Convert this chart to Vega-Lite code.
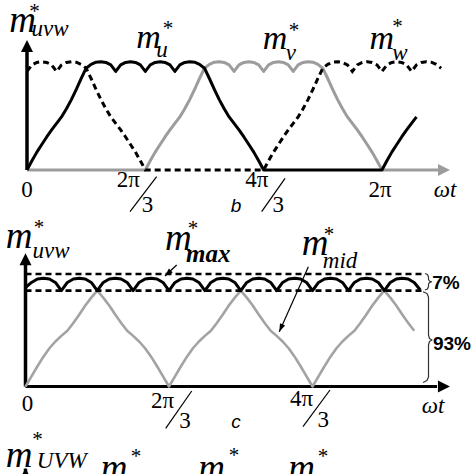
{
  "$schema": "https://vega.github.io/schema/vega-lite/v6.json",
  "padding": 0,
  "spacing": 0,
  "bounds": "flush",
  "background": "white",
  "config": {"view": {"stroke": null}},
  "datasets": {
    "bWave": [
      {"s":"u","x":0,"y":0},{"s":"u","x":5,"y":0.085},{"s":"u","x":10,"y":0.165},{"s":"u","x":15,"y":0.235},{"s":"u","x":20,"y":0.305},{"s":"u","x":25,"y":0.37},{"s":"u","x":30,"y":0.43},{"s":"u","x":35,"y":0.49},{"s":"u","x":40,"y":0.565},{"s":"u","x":45,"y":0.65},{"s":"u","x":50,"y":0.745},{"s":"u","x":55,"y":0.845},{"s":"u","x":60,"y":0.94},{"s":"u","x":65,"y":0.975},{"s":"u","x":70,"y":0.995},{"s":"u","x":75,"y":1},{"s":"u","x":80,"y":0.993},{"s":"u","x":85,"y":0.97},{"s":"u","x":90,"y":0.91},{"s":"u","x":95,"y":0.97},{"s":"u","x":100,"y":0.993},{"s":"u","x":105,"y":1},{"s":"u","x":110,"y":0.993},{"s":"u","x":115,"y":0.97},{"s":"u","x":120,"y":0.91},{"s":"u","x":125,"y":0.97},{"s":"u","x":130,"y":0.993},{"s":"u","x":135,"y":1},{"s":"u","x":140,"y":0.993},{"s":"u","x":145,"y":0.97},{"s":"u","x":150,"y":0.91},{"s":"u","x":155,"y":0.97},{"s":"u","x":160,"y":0.993},{"s":"u","x":165,"y":1},{"s":"u","x":170,"y":0.995},{"s":"u","x":175,"y":0.975},{"s":"u","x":180,"y":0.94},{"s":"u","x":185,"y":0.845},{"s":"u","x":190,"y":0.745},{"s":"u","x":195,"y":0.65},{"s":"u","x":200,"y":0.565},{"s":"u","x":205,"y":0.49},{"s":"u","x":210,"y":0.43},{"s":"u","x":215,"y":0.37},{"s":"u","x":220,"y":0.305},{"s":"u","x":225,"y":0.235},{"s":"u","x":230,"y":0.165},{"s":"u","x":235,"y":0.085},{"s":"u","x":240,"y":0},{"s":"u","x":360,"y":0},{"s":"u","x":365,"y":0.085},{"s":"u","x":370,"y":0.165},{"s":"u","x":375,"y":0.235},{"s":"u","x":380,"y":0.305},{"s":"u","x":385,"y":0.37},{"s":"u","x":390,"y":0.43},{"s":"u","x":395,"y":0.49},
      {"s":"v","x":0,"y":0},{"s":"v","x":120,"y":0},{"s":"v","x":125,"y":0.085},{"s":"v","x":130,"y":0.165},{"s":"v","x":135,"y":0.235},{"s":"v","x":140,"y":0.305},{"s":"v","x":145,"y":0.37},{"s":"v","x":150,"y":0.43},{"s":"v","x":155,"y":0.49},{"s":"v","x":160,"y":0.565},{"s":"v","x":165,"y":0.65},{"s":"v","x":170,"y":0.745},{"s":"v","x":175,"y":0.845},{"s":"v","x":180,"y":0.94},{"s":"v","x":185,"y":0.975},{"s":"v","x":190,"y":0.995},{"s":"v","x":195,"y":1},{"s":"v","x":200,"y":0.993},{"s":"v","x":205,"y":0.97},{"s":"v","x":210,"y":0.91},{"s":"v","x":215,"y":0.97},{"s":"v","x":220,"y":0.993},{"s":"v","x":225,"y":1},{"s":"v","x":230,"y":0.993},{"s":"v","x":235,"y":0.97},{"s":"v","x":240,"y":0.91},{"s":"v","x":245,"y":0.97},{"s":"v","x":250,"y":0.993},{"s":"v","x":255,"y":1},{"s":"v","x":260,"y":0.993},{"s":"v","x":265,"y":0.97},{"s":"v","x":270,"y":0.91},{"s":"v","x":275,"y":0.97},{"s":"v","x":280,"y":0.993},{"s":"v","x":285,"y":1},{"s":"v","x":290,"y":0.995},{"s":"v","x":295,"y":0.975},{"s":"v","x":300,"y":0.94},{"s":"v","x":305,"y":0.845},{"s":"v","x":310,"y":0.745},{"s":"v","x":315,"y":0.65},{"s":"v","x":320,"y":0.565},{"s":"v","x":325,"y":0.49},{"s":"v","x":330,"y":0.43},{"s":"v","x":335,"y":0.37},{"s":"v","x":340,"y":0.305},{"s":"v","x":345,"y":0.235},{"s":"v","x":350,"y":0.165},{"s":"v","x":355,"y":0.085},{"s":"v","x":360,"y":0},
      {"s":"w","x":0,"y":0.91},{"s":"w","x":5,"y":0.97},{"s":"w","x":10,"y":0.993},{"s":"w","x":15,"y":1},{"s":"w","x":20,"y":0.993},{"s":"w","x":25,"y":0.97},{"s":"w","x":30,"y":0.91},{"s":"w","x":35,"y":0.97},{"s":"w","x":40,"y":0.993},{"s":"w","x":45,"y":1},{"s":"w","x":50,"y":0.995},{"s":"w","x":55,"y":0.975},{"s":"w","x":60,"y":0.94},{"s":"w","x":65,"y":0.845},{"s":"w","x":70,"y":0.745},{"s":"w","x":75,"y":0.65},{"s":"w","x":80,"y":0.565},{"s":"w","x":85,"y":0.49},{"s":"w","x":90,"y":0.43},{"s":"w","x":95,"y":0.37},{"s":"w","x":100,"y":0.305},{"s":"w","x":105,"y":0.235},{"s":"w","x":110,"y":0.165},{"s":"w","x":115,"y":0.085},{"s":"w","x":120,"y":0},{"s":"w","x":240,"y":0},{"s":"w","x":245,"y":0.085},{"s":"w","x":250,"y":0.165},{"s":"w","x":255,"y":0.235},{"s":"w","x":260,"y":0.305},{"s":"w","x":265,"y":0.37},{"s":"w","x":270,"y":0.43},{"s":"w","x":275,"y":0.49},{"s":"w","x":280,"y":0.565},{"s":"w","x":285,"y":0.65},{"s":"w","x":290,"y":0.745},{"s":"w","x":295,"y":0.845},{"s":"w","x":300,"y":0.94},{"s":"w","x":305,"y":0.975},{"s":"w","x":310,"y":0.995},{"s":"w","x":315,"y":1},{"s":"w","x":320,"y":0.993},{"s":"w","x":325,"y":0.97},{"s":"w","x":330,"y":0.91},{"s":"w","x":335,"y":0.97},{"s":"w","x":340,"y":0.993},{"s":"w","x":345,"y":1},{"s":"w","x":350,"y":0.993},{"s":"w","x":355,"y":0.97},{"s":"w","x":360,"y":0.91},{"s":"w","x":365,"y":0.97},{"s":"w","x":370,"y":0.993},{"s":"w","x":375,"y":1},{"s":"w","x":380,"y":0.993},{"s":"w","x":385,"y":0.97},{"s":"w","x":390,"y":0.91},{"s":"w","x":395,"y":0.97},{"s":"w","x":400,"y":0.993},{"s":"w","x":405,"y":1},{"s":"w","x":410,"y":0.995},{"s":"w","x":415,"y":0.975},{"s":"w","x":420,"y":0.94}
    ],
    "bRule": [
      {"k":"yaxis","x":0,"y":0,"x2":0,"y2":1.09},
      {"k":"xaxis","x":360,"y":0,"x2":416.8,"y2":0},
      {"k":"slash","x":104.5,"y":-0.385,"x2":131.5,"y2":-0.062},
      {"k":"slash","x":238.0,"y":-0.385,"x2":261.7,"y2":-0.077}
    ],
    "bHead": [
      {"k":"up","x":0,"y":1.2},
      {"k":"right","x":429.0,"y":0}
    ],
    "bText": [
      {"k":"m1","t":"m","x":-4.56,"y":1.274},
      {"k":"sub","t":"uvw","x":23.33,"y":1.233},
      {"k":"star","t":"*","x":7.61,"y":1.405},
      {"k":"m2","t":"m","x":123.2,"y":1.127},
      {"k":"sub","t":"u","x":136.9,"y":1.039},
      {"k":"star","t":"*","x":143.0,"y":1.243},
      {"k":"m2","t":"m","x":251.5,"y":1.113},
      {"k":"sub","t":"v","x":267.7,"y":1.02},
      {"k":"star","t":"*","x":270.8,"y":1.224},
      {"k":"m2","t":"m","x":359.7,"y":1.113},
      {"k":"sub","t":"w","x":378.3,"y":1.02},
      {"k":"star","t":"*","x":375.8,"y":1.261},
      {"k":"tick","t":"0","x":0,"y":-0.249},
      {"k":"tick","t":"2π","x":102.7,"y":-0.157},
      {"k":"tick","t":"3","x":122.2,"y":-0.385},
      {"k":"tick","t":"4π","x":233.0,"y":-0.157},
      {"k":"tick","t":"3","x":254.9,"y":-0.385},
      {"k":"tick","t":"2π","x":358.0,"y":-0.249},
      {"k":"wt","t":"ωt","x":423.9,"y":-0.249},
      {"k":"cap","t":"b","x":212.0,"y":-0.385}
    ],
    "cWave": [
      {"s":"mid","x":0,"y":0},{"s":"mid","x":5,"y":0.09},{"s":"mid","x":10,"y":0.18},{"s":"mid","x":15,"y":0.265},{"s":"mid","x":20,"y":0.34},{"s":"mid","x":25,"y":0.4},{"s":"mid","x":30,"y":0.45},{"s":"mid","x":35,"y":0.495},{"s":"mid","x":40,"y":0.565},{"s":"mid","x":45,"y":0.64},{"s":"mid","x":50,"y":0.72},{"s":"mid","x":55,"y":0.79},{"s":"mid","x":60,"y":0.852},{"s":"mid","x":65,"y":0.79},{"s":"mid","x":70,"y":0.72},{"s":"mid","x":75,"y":0.64},{"s":"mid","x":80,"y":0.565},{"s":"mid","x":85,"y":0.495},{"s":"mid","x":90,"y":0.45},{"s":"mid","x":95,"y":0.4},{"s":"mid","x":100,"y":0.34},{"s":"mid","x":105,"y":0.265},{"s":"mid","x":110,"y":0.18},{"s":"mid","x":115,"y":0.09},{"s":"mid","x":120,"y":0},
      {"s":"mid","x":125,"y":0.09},{"s":"mid","x":130,"y":0.18},{"s":"mid","x":135,"y":0.265},{"s":"mid","x":140,"y":0.34},{"s":"mid","x":145,"y":0.4},{"s":"mid","x":150,"y":0.45},{"s":"mid","x":155,"y":0.495},{"s":"mid","x":160,"y":0.565},{"s":"mid","x":165,"y":0.64},{"s":"mid","x":170,"y":0.72},{"s":"mid","x":175,"y":0.79},{"s":"mid","x":180,"y":0.852},{"s":"mid","x":185,"y":0.79},{"s":"mid","x":190,"y":0.72},{"s":"mid","x":195,"y":0.64},{"s":"mid","x":200,"y":0.565},{"s":"mid","x":205,"y":0.495},{"s":"mid","x":210,"y":0.45},{"s":"mid","x":215,"y":0.4},{"s":"mid","x":220,"y":0.34},{"s":"mid","x":225,"y":0.265},{"s":"mid","x":230,"y":0.18},{"s":"mid","x":235,"y":0.09},{"s":"mid","x":240,"y":0},
      {"s":"mid","x":245,"y":0.09},{"s":"mid","x":250,"y":0.18},{"s":"mid","x":255,"y":0.265},{"s":"mid","x":260,"y":0.34},{"s":"mid","x":265,"y":0.4},{"s":"mid","x":270,"y":0.45},{"s":"mid","x":275,"y":0.495},{"s":"mid","x":280,"y":0.565},{"s":"mid","x":285,"y":0.64},{"s":"mid","x":290,"y":0.72},{"s":"mid","x":295,"y":0.79},{"s":"mid","x":300,"y":0.852},{"s":"mid","x":305,"y":0.79},{"s":"mid","x":310,"y":0.72},{"s":"mid","x":315,"y":0.64},{"s":"mid","x":320,"y":0.565},{"s":"mid","x":325,"y":0.495},
      {"s":"max","x":0,"y":0.88},{"s":"max","x":5,"y":0.925},{"s":"max","x":10,"y":0.955},{"s":"max","x":15,"y":0.962},{"s":"max","x":20,"y":0.955},{"s":"max","x":25,"y":0.925},
      {"s":"max","x":30,"y":0.852},{"s":"max","x":35,"y":0.925},{"s":"max","x":40,"y":0.955},{"s":"max","x":45,"y":0.962},{"s":"max","x":50,"y":0.955},{"s":"max","x":55,"y":0.925},
      {"s":"max","x":60,"y":0.852},{"s":"max","x":65,"y":0.925},{"s":"max","x":70,"y":0.955},{"s":"max","x":75,"y":0.962},{"s":"max","x":80,"y":0.955},{"s":"max","x":85,"y":0.925},
      {"s":"max","x":90,"y":0.852},{"s":"max","x":95,"y":0.925},{"s":"max","x":100,"y":0.955},{"s":"max","x":105,"y":0.962},{"s":"max","x":110,"y":0.955},{"s":"max","x":115,"y":0.925},
      {"s":"max","x":120,"y":0.852},{"s":"max","x":125,"y":0.925},{"s":"max","x":130,"y":0.955},{"s":"max","x":135,"y":0.962},{"s":"max","x":140,"y":0.955},{"s":"max","x":145,"y":0.925},
      {"s":"max","x":150,"y":0.852},{"s":"max","x":155,"y":0.925},{"s":"max","x":160,"y":0.955},{"s":"max","x":165,"y":0.962},{"s":"max","x":170,"y":0.955},{"s":"max","x":175,"y":0.925},
      {"s":"max","x":180,"y":0.852},{"s":"max","x":185,"y":0.925},{"s":"max","x":190,"y":0.955},{"s":"max","x":195,"y":0.962},{"s":"max","x":200,"y":0.955},{"s":"max","x":205,"y":0.925},
      {"s":"max","x":210,"y":0.852},{"s":"max","x":215,"y":0.925},{"s":"max","x":220,"y":0.955},{"s":"max","x":225,"y":0.962},{"s":"max","x":230,"y":0.955},{"s":"max","x":235,"y":0.925},
      {"s":"max","x":240,"y":0.852},{"s":"max","x":245,"y":0.925},{"s":"max","x":250,"y":0.955},{"s":"max","x":255,"y":0.962},{"s":"max","x":260,"y":0.955},{"s":"max","x":265,"y":0.925},
      {"s":"max","x":270,"y":0.852},{"s":"max","x":275,"y":0.925},{"s":"max","x":280,"y":0.955},{"s":"max","x":285,"y":0.962},{"s":"max","x":290,"y":0.955},{"s":"max","x":295,"y":0.925},
      {"s":"max","x":300,"y":0.852},{"s":"max","x":305,"y":0.925},{"s":"max","x":310,"y":0.955},{"s":"max","x":315,"y":0.962},{"s":"max","x":320,"y":0.955},{"s":"max","x":325,"y":0.925},
      {"s":"max","x":330,"y":0.86}
    ],
    "cBrace": [
      {"s":"big","o":0,"x":332.36,"y":0.8427},{"s":"big","o":1,"x":335.7,"y":0.8267},{"s":"big","o":2,"x":336.96,"y":0.7956},{"s":"big","o":3,"x":336.96,"y":0.4578},{"s":"big","o":4,"x":337.79,"y":0.4267},{"s":"big","o":5,"x":339.88,"y":0.4133},{"s":"big","o":6,"x":337.79,"y":0.4},{"s":"big","o":7,"x":336.96,"y":0.3689},{"s":"big","o":8,"x":336.96,"y":0.0844},{"s":"big","o":9,"x":335.7,"y":0.0533},{"s":"big","o":10,"x":332.36,"y":0.0356},
      {"s":"small","o":0,"x":334.03,"y":1.0044},{"s":"small","o":1,"x":336.12,"y":0.9956},{"s":"small","o":2,"x":336.96,"y":0.9733},{"s":"small","o":3,"x":336.96,"y":0.9511},{"s":"small","o":4,"x":337.79,"y":0.9378},{"s":"small","o":5,"x":339.47,"y":0.9307},{"s":"small","o":6,"x":337.79,"y":0.9236},{"s":"small","o":7,"x":336.96,"y":0.9111},{"s":"small","o":8,"x":336.96,"y":0.8889},{"s":"small","o":9,"x":336.12,"y":0.8667},{"s":"small","o":10,"x":334.03,"y":0.8578}
    ],
    "cRule": [
      {"k":"yaxis","x":0,"y":0,"x2":0,"y2":1.08},
      {"k":"yaxis","x":0,"y":-0.73,"x2":0,"y2":-0.95},
      {"k":"xaxis","x":0,"y":0,"x2":344.1,"y2":0},
      {"k":"dash","x":0,"y":1.0,"x2":334,"y2":1.0},
      {"k":"dash","x":0,"y":0.852,"x2":334,"y2":0.852},
      {"k":"slash","x":117.2,"y":-0.372,"x2":139.0,"y2":-0.04},
      {"k":"slash","x":232.0,"y":-0.357,"x2":254.6,"y2":-0.031},
      {"k":"pointer","x":126.4,"y":1.08,"x2":116.6,"y2":0.982},
      {"k":"pointer","x":236.5,"y":1.065,"x2":212.2,"y2":0.487}
    ],
    "cHead": [
      {"k":"up","x":0,"y":1.184},
      {"k":"up","x":0,"y":-0.724},
      {"k":"right","x":354.9,"y":0},
      {"k":"maxp","x":116.6,"y":0.982},
      {"k":"midp","x":212.2,"y":0.487}
    ],
    "cText": [
      {"k":"m1","t":"m","x":-5.43,"y":1.228},
      {"k":"sub","t":"uvw","x":21.32,"y":1.14},
      {"k":"star","t":"*","x":11.29,"y":1.352},
      {"k":"m1","t":"m","x":127.8,"y":1.213},
      {"k":"subb","t":"max","x":152.8,"y":1.109},
      {"k":"star","t":"*","x":140.1,"y":1.343},
      {"k":"m1","t":"m","x":242.1,"y":1.169},
      {"k":"sub","t":"mid","x":263.0,"y":1.053},
      {"k":"star","t":"*","x":253.8,"y":1.29},
      {"k":"tick","t":"0","x":1.67,"y":-0.222},
      {"k":"tick","t":"2π","x":114.5,"y":-0.191},
      {"k":"tick","t":"3","x":133.4,"y":-0.373},
      {"k":"tick","t":"4π","x":230.9,"y":-0.173},
      {"k":"tick","t":"3","x":249.0,"y":-0.36},
      {"k":"cap","t":"c","x":176.0,"y":-0.372},
      {"k":"wt","t":"ωt","x":340.7,"y":-0.236},
      {"k":"pct","t":"7%","x":351.6,"y":0.871},
      {"k":"pct","t":"93%","x":356.6,"y":0.32},
      {"k":"m1","t":"m","x":-5.43,"y":-0.713},
      {"k":"sub","t":"UVW","x":30.27,"y":-0.724},
      {"k":"star","t":"*","x":10.03,"y":-0.528},
      {"k":"m1","t":"m","x":74.0,"y":-0.828},
      {"k":"star","t":"*","x":92.4,"y":-0.679},
      {"k":"m1","t":"m","x":155.7,"y":-0.828},
      {"k":"star","t":"*","x":174.3,"y":-0.67},
      {"k":"m1","t":"m","x":230.9,"y":-0.828},
      {"k":"star","t":"*","x":248.7,"y":-0.679}
    ]
  },
  "vconcat": [
    {
      "width": 474,
      "height": 215,
      "encoding": {
        "x": {"field": "x", "type": "quantitative", "axis": null, "scale": {"domain": [-27.38, 453.35], "nice": false, "zero": false}},
        "y": {"field": "y", "type": "quantitative", "axis": null, "scale": {"domain": [-0.4155, 1.5697], "nice": false, "zero": false}}
      },
      "layer": [
        {"data": {"name": "bWave"}, "transform": [{"filter": "datum.s === 'v'"}], "mark": {"type": "line", "color": "#9c9c9c", "strokeWidth": 3, "strokeJoin": "round"}},
        {"data": {"name": "bRule"}, "transform": [{"filter": "datum.k === 'xaxis'"}], "mark": {"type": "rule", "color": "#9c9c9c", "strokeWidth": 3}, "encoding": {"x2": {"field": "x2"}, "y2": {"field": "y2"}}},
        {"data": {"name": "bHead"}, "transform": [{"filter": "datum.k === 'right'"}], "mark": {"type": "point", "shape": "M0,0L-0.5,1L0.5,1Z", "size": 576, "angle": 90, "filled": true, "opacity": 1, "color": "#9c9c9c"}},
        {"data": {"name": "bWave"}, "transform": [{"filter": "datum.s === 'u'"}], "mark": {"type": "line", "color": "#000000", "strokeWidth": 3, "strokeJoin": "round"}},
        {"data": {"name": "bWave"}, "transform": [{"filter": "datum.s === 'w'"}], "mark": {"type": "line", "color": "#000000", "strokeWidth": 3, "strokeDash": [6, 4]}},
        {"data": {"name": "bRule"}, "transform": [{"filter": "datum.k === 'yaxis'"}], "mark": {"type": "rule", "color": "#000000", "strokeWidth": 3.5}, "encoding": {"x2": {"field": "x2"}, "y2": {"field": "y2"}}},
        {"data": {"name": "bHead"}, "transform": [{"filter": "datum.k === 'up'"}], "mark": {"type": "point", "shape": "M0,0L-0.5,1L0.5,1Z", "size": 576, "filled": true, "opacity": 1, "color": "#000000"}},
        {"data": {"name": "bRule"}, "transform": [{"filter": "datum.k === 'slash'"}], "mark": {"type": "rule", "color": "#000000", "strokeWidth": 1.2}, "encoding": {"x2": {"field": "x2"}, "y2": {"field": "y2"}}},
        {"data": {"name": "bText"}, "transform": [{"filter": "datum.k === 'm1'"}], "mark": {"type": "text", "font": "Liberation Serif", "fontStyle": "italic", "fontSize": 37, "align": "center", "baseline": "alphabetic", "clip": true}, "encoding": {"text": {"field": "t"}}},
        {"data": {"name": "bText"}, "transform": [{"filter": "datum.k === 'm2'"}], "mark": {"type": "text", "font": "Liberation Serif", "fontStyle": "italic", "fontSize": 34, "align": "center", "baseline": "alphabetic", "clip": true}, "encoding": {"text": {"field": "t"}}},
        {"data": {"name": "bText"}, "transform": [{"filter": "datum.k === 'sub'"}], "mark": {"type": "text", "font": "Liberation Serif", "fontStyle": "italic", "fontSize": 23, "align": "center", "baseline": "alphabetic", "clip": true}, "encoding": {"text": {"field": "t"}}},
        {"data": {"name": "bText"}, "transform": [{"filter": "datum.k === 'star'"}], "mark": {"type": "text", "font": "Liberation Serif", "fontSize": 21, "align": "center", "baseline": "alphabetic", "clip": true}, "encoding": {"text": {"field": "t"}}},
        {"data": {"name": "bText"}, "transform": [{"filter": "datum.k === 'tick'"}], "mark": {"type": "text", "font": "Liberation Serif", "fontSize": 23, "align": "center", "baseline": "alphabetic", "clip": true}, "encoding": {"text": {"field": "t"}}},
        {"data": {"name": "bText"}, "transform": [{"filter": "datum.k === 'wt'"}], "mark": {"type": "text", "font": "Liberation Serif", "fontStyle": "italic", "fontSize": 23, "align": "center", "baseline": "alphabetic", "clip": true}, "encoding": {"text": {"field": "t"}}},
        {"data": {"name": "bText"}, "transform": [{"filter": "datum.k === 'cap'"}], "mark": {"type": "text", "font": "Liberation Sans", "fontStyle": "italic", "fontSize": 19, "align": "center", "baseline": "alphabetic", "clip": true}, "encoding": {"text": {"field": "t"}}}
      ]
    },
    {
      "width": 474,
      "height": 259,
      "encoding": {
        "x": {"field": "x", "type": "quantitative", "axis": null, "scale": {"domain": [-21.32, 375.0], "nice": false, "zero": false}},
        "y": {"field": "y", "type": "quantitative", "axis": null, "scale": {"domain": [-0.7778, 1.5244], "nice": false, "zero": false}}
      },
      "layer": [
        {"data": {"name": "cRule"}, "transform": [{"filter": "datum.k === 'xaxis'"}], "mark": {"type": "rule", "color": "#000000", "strokeWidth": 3}, "encoding": {"x2": {"field": "x2"}, "y2": {"field": "y2"}}},
        {"data": {"name": "cRule"}, "transform": [{"filter": "datum.k === 'yaxis'"}], "mark": {"type": "rule", "color": "#000000", "strokeWidth": 3.5, "clip": true}, "encoding": {"x2": {"field": "x2"}, "y2": {"field": "y2"}}},
        {"data": {"name": "cHead"}, "transform": [{"filter": "datum.k === 'up'"}], "mark": {"type": "point", "shape": "M0,0L-0.5,1L0.5,1Z", "size": 576, "filled": true, "opacity": 1, "color": "#000000", "clip": true}},
        {"data": {"name": "cHead"}, "transform": [{"filter": "datum.k === 'right'"}], "mark": {"type": "point", "shape": "M0,0L-0.5,1L0.5,1Z", "size": 576, "angle": 90, "filled": true, "opacity": 1, "color": "#000000"}},
        {"data": {"name": "cWave"}, "transform": [{"filter": "datum.s === 'mid'"}], "mark": {"type": "line", "color": "#a3a3a3", "strokeWidth": 2.6, "strokeJoin": "round"}},
        {"data": {"name": "cRule"}, "transform": [{"filter": "datum.k === 'dash'"}], "mark": {"type": "rule", "color": "#000000", "strokeWidth": 2.6, "strokeDash": [6, 4]}, "encoding": {"x2": {"field": "x2"}, "y2": {"field": "y2"}}},
        {"data": {"name": "cWave"}, "transform": [{"filter": "datum.s === 'max'"}], "mark": {"type": "line", "color": "#000000", "strokeWidth": 3, "strokeJoin": "round"}},
        {"data": {"name": "cRule"}, "transform": [{"filter": "datum.k === 'pointer' || datum.k === 'slash'"}], "mark": {"type": "rule", "color": "#000000", "strokeWidth": 1.2}, "encoding": {"x2": {"field": "x2"}, "y2": {"field": "y2"}}},
        {"data": {"name": "cHead"}, "transform": [{"filter": "datum.k === 'maxp'"}], "mark": {"type": "point", "shape": "M0,0L-0.35,1L0.35,1Z", "size": 256, "angle": 227, "filled": true, "opacity": 1, "color": "#000000"}},
        {"data": {"name": "cHead"}, "transform": [{"filter": "datum.k === 'midp'"}], "mark": {"type": "point", "shape": "M0,0L-0.35,1L0.35,1Z", "size": 256, "angle": 204, "filled": true, "opacity": 1, "color": "#000000"}},
        {"data": {"name": "cBrace"}, "mark": {"type": "line", "color": "#333333", "strokeWidth": 1.2, "strokeJoin": "round"}, "encoding": {"detail": {"field": "s"}, "order": {"field": "o", "type": "quantitative"}}},
        {"data": {"name": "cText"}, "transform": [{"filter": "datum.k === 'm1'"}], "mark": {"type": "text", "font": "Liberation Serif", "fontStyle": "italic", "fontSize": 37, "align": "center", "baseline": "alphabetic", "clip": true}, "encoding": {"text": {"field": "t"}}},
        {"data": {"name": "cText"}, "transform": [{"filter": "datum.k === 'sub'"}], "mark": {"type": "text", "font": "Liberation Serif", "fontStyle": "italic", "fontSize": 23, "align": "center", "baseline": "alphabetic", "clip": true}, "encoding": {"text": {"field": "t"}}},
        {"data": {"name": "cText"}, "transform": [{"filter": "datum.k === 'subb'"}], "mark": {"type": "text", "font": "Liberation Serif", "fontStyle": "italic", "fontWeight": "bold", "fontSize": 25, "align": "center", "baseline": "alphabetic", "clip": true}, "encoding": {"text": {"field": "t"}}},
        {"data": {"name": "cText"}, "transform": [{"filter": "datum.k === 'star'"}], "mark": {"type": "text", "font": "Liberation Serif", "fontSize": 21, "align": "center", "baseline": "alphabetic", "clip": true}, "encoding": {"text": {"field": "t"}}},
        {"data": {"name": "cText"}, "transform": [{"filter": "datum.k === 'tick'"}], "mark": {"type": "text", "font": "Liberation Serif", "fontSize": 23, "align": "center", "baseline": "alphabetic", "clip": true}, "encoding": {"text": {"field": "t"}}},
        {"data": {"name": "cText"}, "transform": [{"filter": "datum.k === 'wt'"}], "mark": {"type": "text", "font": "Liberation Serif", "fontStyle": "italic", "fontSize": 23, "align": "center", "baseline": "alphabetic", "clip": true}, "encoding": {"text": {"field": "t"}}},
        {"data": {"name": "cText"}, "transform": [{"filter": "datum.k === 'cap'"}], "mark": {"type": "text", "font": "Liberation Sans", "fontStyle": "italic", "fontSize": 19, "align": "center", "baseline": "alphabetic", "clip": true}, "encoding": {"text": {"field": "t"}}},
        {"data": {"name": "cText"}, "transform": [{"filter": "datum.k === 'pct'"}], "mark": {"type": "text", "font": "Liberation Sans", "fontWeight": "bold", "fontSize": 19, "align": "center", "baseline": "alphabetic", "clip": true}, "encoding": {"text": {"field": "t"}}}
      ]
    }
  ]
}
